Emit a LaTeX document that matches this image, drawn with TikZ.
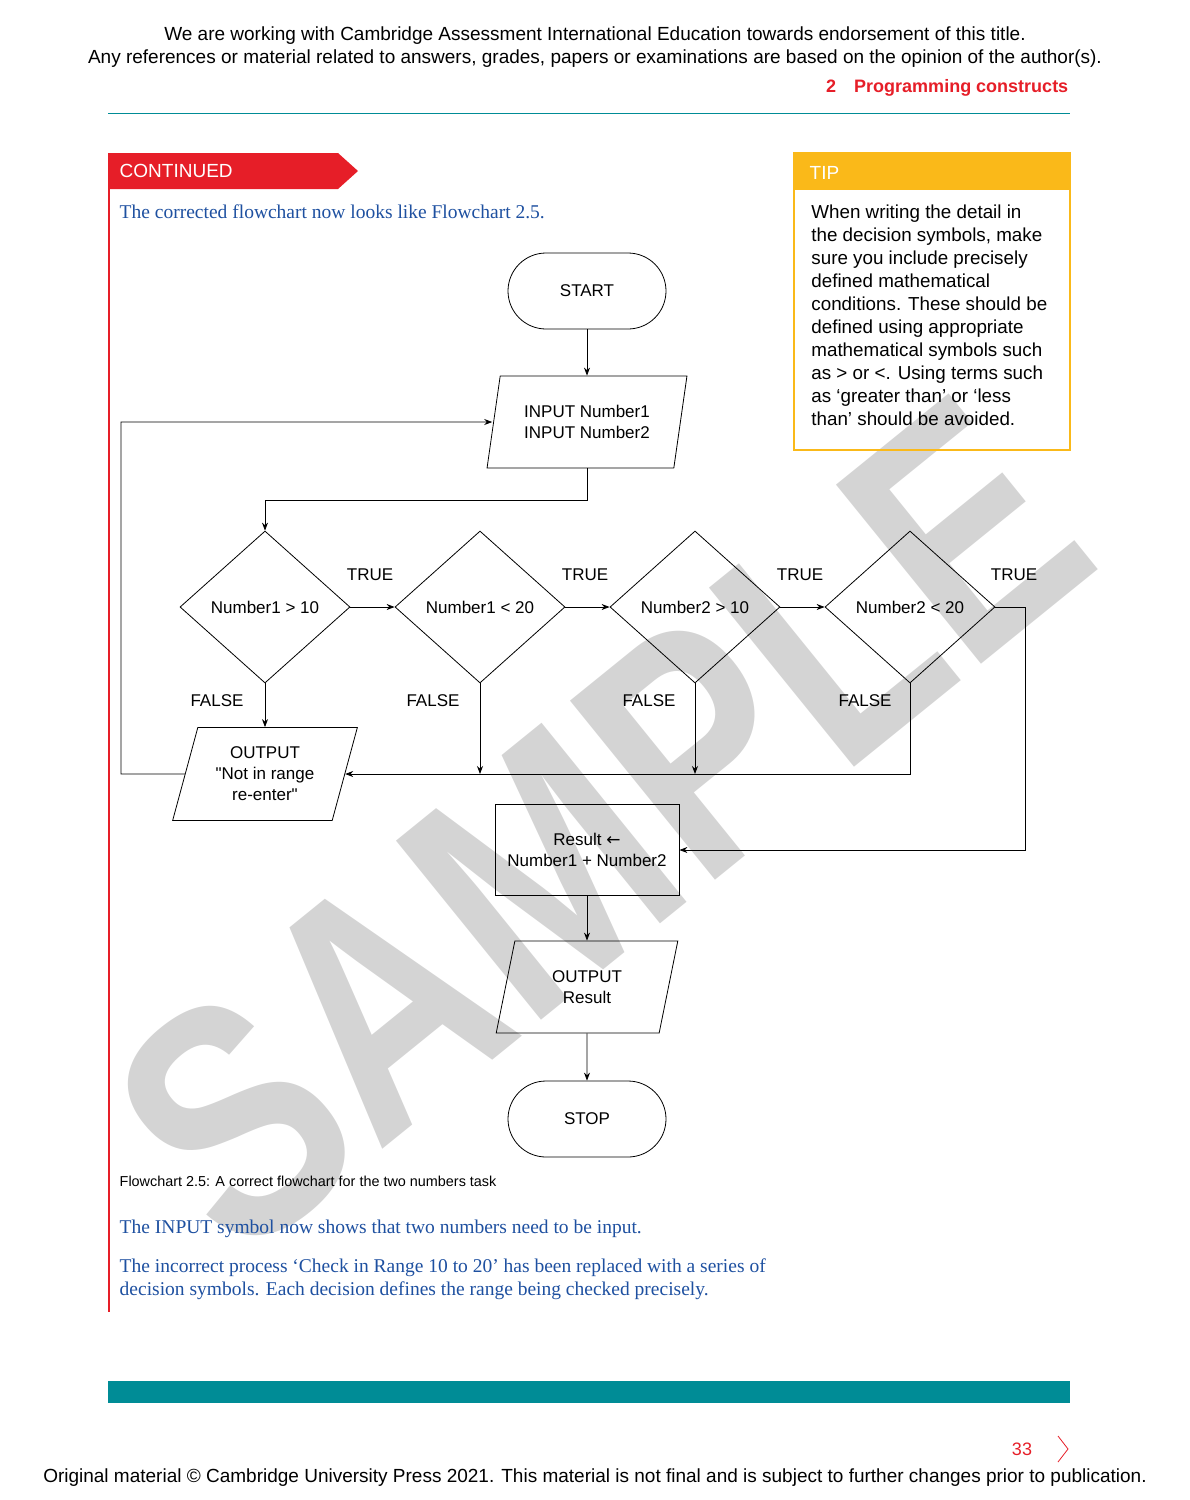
\documentclass[tikz,border=0pt]{standalone}
\usepackage{fontspec}
\setmainfont{Liberation Sans}
\newfontfamily\bodyserif{Liberation Serif}
\newfontfamily\symfont{DejaVu Sans}
\usetikzlibrary{shapes.geometric,arrows.meta,calc,positioning}
\definecolor{camred}{RGB}{230,30,40}
\definecolor{camteal}{RGB}{0,140,150}
\definecolor{tiporange}{RGB}{250,185,25}
\definecolor{bodyblue}{RGB}{30,80,160}

\begin{document}
\begin{tikzpicture}[
  x=1pt, y=-1pt,
  line width=0.8pt,
  term/.style={rectangle, rounded corners=38pt, draw, minimum width=158pt, minimum height=76pt, font=\fontsize{17}{20}\selectfont},
  io/.style={trapezium, trapezium stretches=true, trapezium left angle=76, trapezium right angle=104, draw, minimum width=200pt, minimum height=92pt, align=center, font=\fontsize{17}{21}\selectfont},
  dec/.style={diamond, draw, inner sep=0pt, minimum width=170pt, minimum height=152pt, font=\fontsize{17}{20}\selectfont},
  proc/.style={rectangle, draw, minimum width=184pt, minimum height=91pt, align=center, font=\fontsize{17}{21}\selectfont},
  lbl/.style={font=\fontsize{17}{20}\selectfont},
  blue text/.style={anchor=west, text=bodyblue, font=\bodyserif\fontsize{19.5}{23}\selectfont},
  arrow/.style={-{Stealth[length=8pt,width=6pt]}}
]
\useasboundingbox (0,0) rectangle (1190,1500);

% Watermark
\node[rotate=39, text=black!17, font=\bfseries\fontsize{335}{335}\selectfont] (mark) at (600,825) {\scalebox{0.8}[1]{SAMPLE}};

% Page header
\node[font=\fontsize{19}{22}\selectfont] (hd1) at (595,36) {We are working with Cambridge Assessment International Education towards endorsement of this title.};
\node[font=\fontsize{19}{22}\selectfont] (hd2) at (595,59) {Any references or material related to answers, grades, papers or examinations are based on the opinion of the author(s).};
\node[anchor=east, text=camred, font=\bfseries\fontsize{18}{21}\selectfont] (chap) at (1072,88) {2\quad Programming constructs};
\draw[camteal, line width=1pt] (108,113) -- (1070,113);

% Continued banner
\fill[camred] (108,153) -- (338,153) -- (358,171) -- (338,189) -- (108,189) -- cycle;
\node[anchor=west, text=white, font=\fontsize{19}{22}\selectfont] (cont) at (116,171) {CONTINUED};
\draw[camred, line width=1.2pt] (109,189) -- (109,1312);
\node[blue text] (intro) at (116,212) {The corrected flowchart now looks like Flowchart 2.5.};

% Tip box
\draw[tiporange, line width=1.2pt] (794,153) rectangle (1070,450);
\fill[tiporange] (794,153) rectangle (1070,190);
\node[anchor=west, text=white, font=\fontsize{19}{22}\selectfont] (tip) at (806,173) {TIP};
\node[anchor=north west, align=left, inner sep=0pt, font=\fontsize{18.8}{23}\selectfont] (tiptext) at (811,204) {When writing the detail in\\the decision symbols, make\\sure you include precisely\\defined mathematical\\conditions. These should be\\defined using appropriate\\mathematical symbols such\\as > or <. Using terms such\\as ‘greater than’ or ‘less\\than’ should be avoided.};

% Flowchart nodes
\node[term] (start) at (587,291) {START};
\node[io] (input) at (587,422) {INPUT Number1\\INPUT Number2};
\node[dec] (d1) at (265,607) {Number1 > 10};
\node[dec] (d2) at (480,607) {Number1 < 20};
\node[dec] (d3) at (695,607) {Number2 > 10};
\node[dec] (d4) at (910,607) {Number2 < 20};
\node[io, trapezium left angle=72, trapezium right angle=108, minimum width=185pt, minimum height=93pt] (outerr) at (265,774) {OUTPUT\\\textquotedbl Not in range\\re-enter\textquotedbl};
\node[proc] (calc) at (587,850) {Result {\symfont←}\\Number1 + Number2};
\node[io, trapezium left angle=76, trapezium right angle=104, minimum width=183pt] (outres) at (587,987) {OUTPUT\\Result};
\node[term] (stop) at (587,1119) {STOP};

% Labels
\node[lbl] (t1) at (370,575) {TRUE};
\node[lbl] (t2) at (585,575) {TRUE};
\node[lbl] (t3) at (800,575) {TRUE};
\node[lbl] (t4) at (1014,575) {TRUE};
\node[lbl] (f1) at (217,701) {FALSE};
\node[lbl] (f2) at (433,701) {FALSE};
\node[lbl] (f3) at (649,701) {FALSE};
\node[lbl] (f4) at (865,701) {FALSE};

% Connectors
\coordinate (j2) at (480,774);
\coordinate (j3) at (695,774);
\draw[arrow] (start) -- (input);
\draw[arrow] (input.south) -- ++(0,32) -| (d1.north);
\draw[arrow] (d1) -- (d2);
\draw[arrow] (d2) -- (d3);
\draw[arrow] (d3) -- (d4);
\draw[arrow] (d1) -- (outerr);
\draw[arrow] (d2.south) -- (j2);
\draw[arrow] (d3.south) -- (j3);
\draw[arrow] (d4.south) |- (outerr.east);
\draw[arrow] (outerr.west) -- (121,774) |- ($(input.west)+(-1,0)$);
\draw[arrow] (d4.east) -- ++(30,0) |- (calc.east);
\draw[arrow] (calc) -- (outres);
\draw[arrow] (outres) -- (stop);

% Caption and body text
\node[anchor=west, font=\fontsize{14.4}{17}\selectfont] (cap) at (116,1181) {Flowchart 2.5: A correct flowchart for the two numbers task};
\node[blue text] (p1) at (116,1229) {The INPUT symbol now shows that two numbers need to be input.};
\node[blue text, anchor=north west, align=left] (p2) at (116,1255) {The incorrect process ‘Check in Range 10 to 20’ has been replaced with a series of\\decision symbols. Each decision defines the range being checked precisely.};

% Page footer
\fill[camteal] (108,1381) rectangle (1070,1403);
\node[text=camred, font=\fontsize{18}{21}\selectfont] (pg) at (1022,1449) {33};
\draw[camred, thick] (1058,1436) -- (1068,1449) -- (1058,1462);
\node[font=\fontsize{19}{22}\selectfont] (ft) at (595,1478) {Original material \textcopyright{} Cambridge University Press 2021. This material is not final and is subject to further changes prior to publication.};
\end{tikzpicture}
\end{document}
